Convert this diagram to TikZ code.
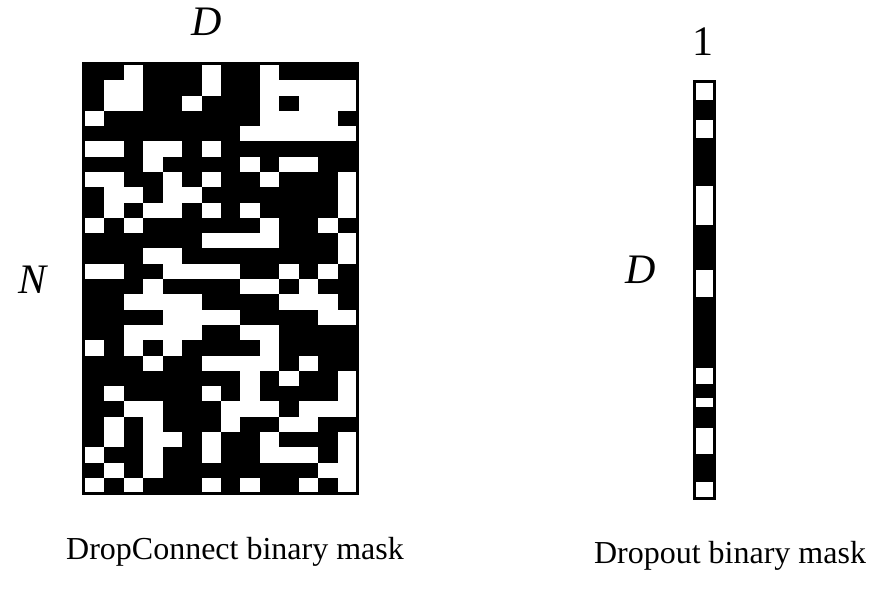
\documentclass[tikz,border=0pt]{standalone}
\usepackage{fontspec}
\setmainfont{Liberation Serif}
\begin{document}
\begin{tikzpicture}[x=1pt,y=-1pt,
  lbl/.style={font=\fontsize{32}{36}\selectfont},
  sym/.style={font=\fontsize{42}{46}\selectfont\itshape}]
\useasboundingbox (0,0) rectangle (880,597);
\pgfmathsetseed{12345}
\fill[black] (83,63) rectangle (357,493);
\foreach \i in {0,...,13}{
  \foreach \j in {0,...,27}{
    \pgfmathsetmacro{\r}{rnd}
    \ifdim\r pt<0.38pt
      \fill[white] ({85+\i*19.43},{65+\j*15.29}) rectangle ++(19.43,15.29);
    \fi
  }}
\draw[line width=3pt] (83,63) rectangle (357,493);
\fill[black] (693,80) rectangle (716,500);
\foreach \a/\b in {83/100,120/138,186/225,270/297,368/384,398/407,428/454,482/497}
  \fill[white] (696,\a) rectangle (713,\b);
\node[sym] (D1) at (207,22) {D};
\node[sym] (N) at (33,280) {N};
\node[font=\fontsize{42}{46}\selectfont] (one) at (703,42) {1};
\node[sym] (D2) at (641,270) {D};
\node[lbl] (l1) at (235,552) {DropConnect binary mask};
\node[lbl] (l2) at (730,556) {Dropout binary mask};
\end{tikzpicture}
\end{document}
